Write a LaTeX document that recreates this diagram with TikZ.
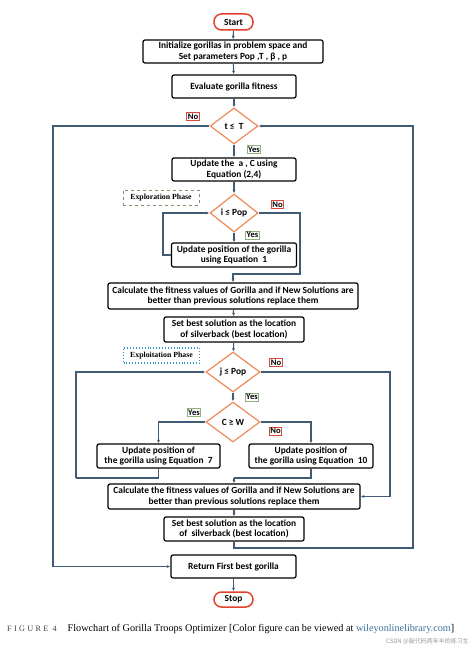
\documentclass[tikz,border=0pt]{standalone}
\usepackage{fontspec}
\setmainfont{Liberation Serif}
\newfontfamily\boxfont{Carlito}
\newfontfamily\cjkfont{Noto Sans CJK SC}
\usetikzlibrary{shapes.geometric,arrows.meta}
\definecolor{linec}{HTML}{3F5B75}
\definecolor{termred}{HTML}{E2412B}
\definecolor{testorange}{HTML}{EE8A55}
\definecolor{nored}{HTML}{D9473F}
\definecolor{yesgreen}{HTML}{8DB37A}
\definecolor{explo}{HTML}{8C8C6A}
\definecolor{exploit}{HTML}{2F97C1}
\definecolor{wileyblue}{HTML}{3F6E9E}
\begin{document}
\begin{tikzpicture}[x=1pt,y=-1pt,
  >={Latex[length=3.5pt,width=3pt]},
  box font/.style={font=\boxfont\bfseries\fontsize{9.4}{10.2}\selectfont},
  proc node/.style={draw,box font,rounded corners=2pt,line width=1.2pt,align=center,inner sep=0pt},
  term node/.style={draw=termred,box font,rounded corners=7.5pt,line width=1.5pt,minimum width=39pt,inner sep=0pt},
  test node/.style={diamond,draw=testorange,box font,line width=1.2pt,inner sep=0pt,aspect=1.35},
  tag/.style={fill=white,line width=0.8pt,inner sep=1.1pt,font=\boxfont\bfseries\fontsize{8.6}{9}\selectfont},
  no tag/.style={tag,draw=nored},
  yes tag/.style={tag,draw=yesgreen},
  phase/.style={font=\bfseries\fontsize{7.8}{9}\selectfont,minimum width=76pt,minimum height=15pt,inner sep=0pt,line width=0.9pt},
  flow/.style={draw=linec,line width=1.1pt}]
  \useasboundingbox (0,0) rectangle (474,647);
  \node[term node,minimum height=16pt] (start) at (233.5,22) {Start};
  \node[proc node,minimum width=180pt,minimum height=23pt] (init) at (233,51.5)
    {Initialize gorillas in problem space and\\Set parameters Pop ,T , β , p};
  \node[proc node,minimum width=124pt,minimum height=23pt] (eval) at (234,86.5) {Evaluate gorilla fitness};
  \node[test node,minimum width=48pt,minimum height=36pt] (tT) at (234,126) {t ≤\ \ T};
  \node[proc node,minimum width=124pt,minimum height=23pt] (upd) at (234,169.5) {Update the\ \ a , C using\\Equation (2,4)};
  \node[phase,draw=explo,dashed] (explo) at (161,197.5) {Exploration Phase};
  \node[test node,minimum width=48pt,minimum height=38pt] (iPop) at (234,213) {i ≤ Pop};
  \node[proc node,minimum width=125pt,minimum height=24pt] (pos1) at (234,255) {Update position of the gorilla\\using Equation\ \ 1};
  \node[proc node,minimum width=250pt,minimum height=26pt] (calc1) at (233,296)
    {Calculate the fitness values of Gorilla and if New Solutions are\\better than previous solutions replace them};
  \node[proc node,minimum width=140pt,minimum height=25pt] (best1) at (234,329.5)
    {Set best solution as the location\\of silverback (best location)};
  \node[phase,draw=exploit,dotted,line width=1.1pt] (exploit) at (161.5,355.5) {Exploitation Phase};
  \node[test node,minimum width=54pt,minimum height=40pt] (jPop) at (233,372) {j ≤ Pop};
  \node[test node,minimum width=54pt,minimum height=40pt] (CW) at (233,422) {C ≥ W};
  \node[proc node,minimum width=123pt,minimum height=24pt] (eq7) at (158.5,456) {Update position of\\the gorilla using Equation\ \ 7};
  \node[proc node,minimum width=124pt,minimum height=24pt] (eq10) at (311,456) {Update position of\\the gorilla using Equation\ \ 10};
  \node[proc node,minimum width=252pt,minimum height=25pt] (calc2) at (234,496.5)
    {Calculate the fitness values of Gorilla and if New Solutions are\\better than previous solutions replace them};
  \node[proc node,minimum width=140pt,minimum height=24pt] (best2) at (234,529)
    {Set best solution as the location\\of\ \ silverback (best location)};
  \node[proc node,minimum width=125pt,minimum height=23pt] (ret) at (233.5,566.5) {Return First best gorilla};
  \node[term node,minimum height=15pt] (stop) at (233.5,599.5) {Stop};
  \coordinate (iout) at (300,274);
  \coordinate (ctop) at (233,274);
  \coordinate (iback) at (163,255);
  \coordinate (jback) at (76,478);
  \coordinate (jmid) at (234,478);
  \coordinate (jright) at (390,372);
  \coordinate (tloop) at (413,548);
  \coordinate (bdown) at (234,548);
  \coordinate (tleft) at (53,126);
  \path[flow,->]
   (start) edge (init)
   (init) edge (eval)
   (eval) edge (tT)
   (tT) edge (upd)
   (upd) edge (iPop)
   (iPop) edge (pos1)
   (calc1) edge (best1)
   (best1) edge (jPop)
   (jPop) edge (CW)
   (calc2) edge (best2)
   (ret) edge (stop);
  \draw[flow,->] (pos1.west) -- (iback) |- (iPop.west);
  \draw[flow,->] (iPop.east) -| (iout) -- (ctop) -- (calc1.north);
  \draw[flow,->] (CW.west) -| (eq7.north);
  \draw[flow,->] (CW.east) -| (eq10.north);
  \draw[flow] (eq7.south) |- (jback);
  \draw[flow] (eq10.south) |- (jmid);
  \draw[flow,->] (jmid) -- (calc2.north);
  \draw[flow,->] (jback) |- (jPop.west);
  \draw[flow,->] (jPop.east) -- (jright) |- (calc2.east);
  \draw[flow,->] (best2.south) -- (bdown) -- (tloop) |- (tT.east);
  \draw[flow,->] (tT.west) -- (tleft) |- (ret.west);
  \node[no tag] (no1) at (193,116.5) {No};
  \node[yes tag] (yes1) at (254,149.5) {Yes};
  \node[no tag] (no2) at (277.5,204.5) {No};
  \node[yes tag] (yes2) at (252.5,235) {Yes};
  \node[no tag] (no3) at (276,362.5) {No};
  \node[yes tag] (yes3) at (252,397) {Yes};
  \node[yes tag] (yes4) at (194,412.5) {Yes};
  \node[no tag] (no4) at (275.5,431) {No};
  \node[anchor=west,font=\fontsize{10.2}{12}\selectfont,inner sep=0pt] (cap) at (7,629)
    {{\color{black!75}\addfontfeature{LetterSpace=28}\fontsize{8.2}{9}\selectfont FIGURE 4}\hspace{11pt}Flowchart of Gorilla Troops Optimizer [Color figure can be viewed at \textcolor{wileyblue}{wileyonlinelibrary.com}]};
  \node[anchor=east,font=\cjkfont\fontsize{6}{7}\selectfont,text=black!40,inner sep=0pt] (mark) at (469,641) {CSDN @敲代码两年半的练习生};
\end{tikzpicture}
\end{document}
